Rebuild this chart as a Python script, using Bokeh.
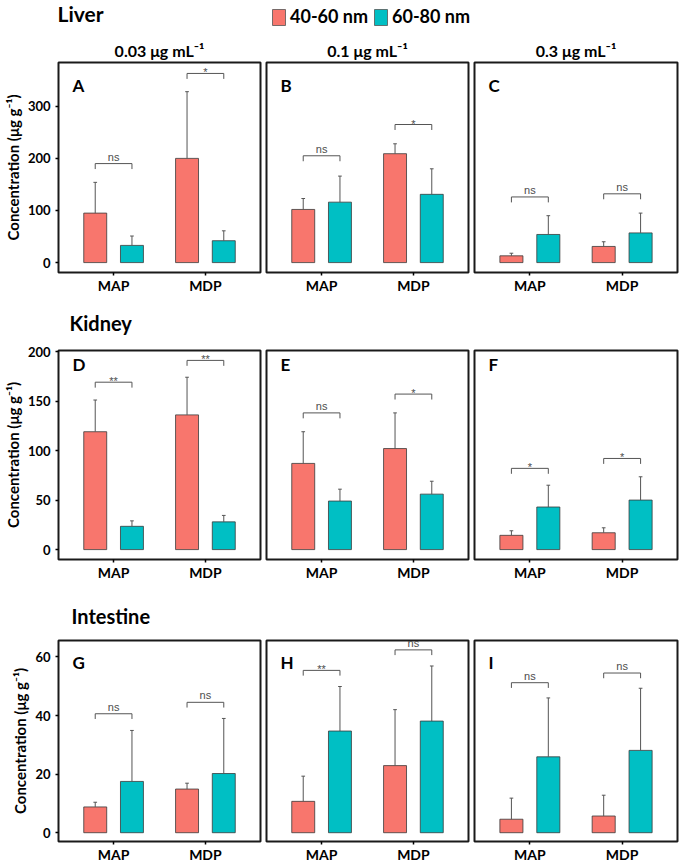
from bokeh.plotting import figure
from bokeh.models import Range1d, FixedTicker, ColumnDataSource
from bokeh.layouts import column, row
from bokeh.embed import file_html
from bokeh.resources import INLINE
from bokeh.core.properties import value

# ---------------- data ----------------
organs = ["Liver", "Kidney", "Intestine"]
concentrations = ["0.03 μg mL⁻¹", "0.1 μg mL⁻¹", "0.3 μg mL⁻¹"]
categories = ["MAP", "MDP"]
sizes = ["40-60 nm", "60-80 nm"]
panel_letters = [["A", "B", "C"], ["D", "E", "F"], ["G", "H", "I"]]
y_ticks = [[0, 100, 200, 300], [0, 50, 100, 150, 200], [0, 20, 40, 60]]
y_limits = [(-19, 384), (-10, 201), (-3, 65.6)]

# mean values per concentration [MAP, MDP]; error = upper end of the error bar
liver_mean_40_60 = [[95, 200], [102, 209], [13, 31]]
liver_err_40_60 = [[154, 328], [123, 228], [18, 40]]
liver_mean_60_80 = [[33, 42], [116, 131], [54, 57]]
liver_err_60_80 = [[51, 61], [166, 180], [90, 95]]
liver_bracket = [[190, 363], [205, 265], [126, 132]]
liver_sig = [["ns", "*"], ["ns", "*"], ["ns", "ns"]]

kidney_mean_40_60 = [[119, 136], [87, 102], [14.4, 17]]
kidney_err_40_60 = [[151, 174], [119, 138], [19, 22]]
kidney_mean_60_80 = [[23.5, 28], [49, 56], [43, 50]]
kidney_err_60_80 = [[29, 34.5], [61, 69], [65, 73.5]]
kidney_bracket = [[169, 191], [138, 157], [82, 92]]
kidney_sig = [["**", "**"], ["ns", "*"], ["*", "*"]]

intestine_mean_40_60 = [[8.8, 14.9], [10.7, 22.9], [4.6, 5.7]]
intestine_err_40_60 = [[10.4, 16.9], [19.3, 42], [11.8, 12.8]]
intestine_mean_60_80 = [[17.5, 20.2], [34.7, 38.1], [25.9, 28.1]]
intestine_err_60_80 = [[34.9, 39], [49.9, 56.9], [46, 49.3]]
intestine_bracket = [[40.6, 44.5], [55.4, 62.4], [51.2, 54.5]]
intestine_sig = [["ns", "ns"], ["**", "ns"], ["ns", "ns"]]

organ_data = [
    (liver_mean_40_60, liver_err_40_60, liver_mean_60_80, liver_err_60_80, liver_bracket, liver_sig),
    (kidney_mean_40_60, kidney_err_40_60, kidney_mean_60_80, kidney_err_60_80, kidney_bracket, kidney_sig),
    (intestine_mean_40_60, intestine_err_40_60, intestine_mean_60_80, intestine_err_60_80, intestine_bracket, intestine_sig),
]

# ---------------- style ----------------
RED = "#F8766D"
TEAL = "#00BFC4"
FONT = value("Lato")
SIGFONT = value("Liberation Sans")
BAR_LINE = "#3a3a3a"
ERR_COL = "#555555"
BASE_SHIFT = 0.45   # em; compensates where the text baseline is drawn

col_widths = [263, 208, 214]
col_mbl = [58, 3, 3]
col_mbr = [3, 3, 8]
row_heights = [236, 241, 227]
row_mbt = [1, 7, 2]
row_mbb = [25, 25, 21]
letter_dy = [31, 21.5, 30]
header_heights = [61, 46, 54]
header_tops = [0, 297, 584]
PAGE_W = 685

yranges = [Range1d(lo, hi) for lo, hi in y_limits]


def make_panel(r, c):
    first = c == 0
    p = figure(width=col_widths[c], height=row_heights[r],
               x_range=Range1d(0.4, 2.6), y_range=yranges[r],
               output_backend="svg", toolbar_location=None,
               min_border_left=col_mbl[c], min_border_right=col_mbr[c],
               min_border_top=row_mbt[r], min_border_bottom=row_mbb[r],
               y_axis_location="left" if first else None)
    p.grid.visible = False
    p.outline_line_color = "#1a1a1a"
    p.outline_line_width = 2
    p.background_fill_color = "white"

    xc = [i + 1 for i in range(len(categories))]
    xa = [x - 0.2 for x in xc]
    xb = [x + 0.2 for x in xc]
    m_a, e_a, m_b, e_b, br, sg = [d[c] for d in organ_data[r]]

    p.vbar(x=xa, top=m_a, bottom=0, width=0.25, fill_color=RED, line_color=BAR_LINE, line_width=0.8)
    p.vbar(x=xb, top=m_b, bottom=0, width=0.25, fill_color=TEAL, line_color=BAR_LINE, line_width=0.8)

    for xs, ms, es in ((xa, m_a, e_a), (xb, m_b, e_b)):
        p.segment(x0=xs, y0=ms, x1=xs, y1=es, line_color=ERR_COL, line_width=1)
        p.segment(x0=[x - 0.02 for x in xs], y0=es, x1=[x + 0.02 for x in xs], y1=es,
                  line_color=ERR_COL, line_width=1)

    lo, hi = y_limits[r]
    tick = (hi - lo) * 0.026
    p.multi_line(xs=[[xa[i], xa[i], xb[i], xb[i]] for i in range(len(xc))],
                 ys=[[br[i] - tick, br[i], br[i], br[i] - tick] for i in range(len(xc))],
                 line_color=ERR_COL, line_width=1)
    src = ColumnDataSource(dict(x=xc, y=br, t=sg, dy=[-7 if s == "ns" else -1 for s in sg]))
    p.text(x="x", y="y", text="t", y_offset="dy", source=src, text_align="center",
           text_baseline="alphabetic", text_font=SIGFONT, text_font_size="11px", text_color="#4d4d4d")

    p.text(x=[0.4], y=[hi], text=[panel_letters[r][c]], x_offset=14,
           y_offset=letter_dy[r] - BASE_SHIFT * 17,
           text_align="left", text_baseline="alphabetic", text_font=FONT,
           text_font_style="bold", text_font_size="17px", text_color="black")

    xa_ = p.xaxis[0]
    xa_.ticker = FixedTicker(ticks=xc)
    xa_.major_label_overrides = {x: cat for x, cat in zip(xc, categories)}
    xa_.axis_line_color = None
    xa_.major_tick_in = 0
    xa_.major_tick_out = 3
    xa_.major_tick_line_color = "black"
    xa_.major_tick_line_width = 1.5
    xa_.minor_tick_line_color = None
    xa_.major_label_standoff = 1
    xa_.major_label_text_font = "Lato"
    xa_.major_label_text_font_style = "bold"
    xa_.major_label_text_font_size = "14px"
    xa_.major_label_text_color = "black"

    if first:
        ya = p.yaxis[0]
        ya.ticker = FixedTicker(ticks=y_ticks[r])
        ya.axis_line_color = None
        ya.major_tick_in = 0
        ya.major_tick_out = 3
        ya.major_tick_line_color = "black"
        ya.major_tick_line_width = 1.5
        ya.minor_tick_line_color = None
        ya.major_label_standoff = 5
        ya.major_label_text_font = "Lato"
        ya.major_label_text_font_style = "bold"
        ya.major_label_text_font_size = "13px"
        ya.major_label_text_color = "black"
        ya.axis_label = "Concentration (μg g⁻¹)"
        ya.axis_label_standoff = 3
        ya.axis_label_text_font = "Lato"
        ya.axis_label_text_font_style = "bold"
        ya.axis_label_text_font_size = "15px"
        ya.axis_label_text_color = "black"
    return p


def make_header(i):
    h = header_heights[i]
    top = header_tops[i]
    f = figure(width=PAGE_W, height=h, x_range=Range1d(0, PAGE_W), y_range=Range1d(top + h, top),
               output_backend="svg", toolbar_location=None,
               min_border_left=0, min_border_right=0, min_border_top=0, min_border_bottom=0,
               x_axis_location=None, y_axis_location=None)
    f.grid.visible = False
    f.outline_line_color = None
    return f


headers = [make_header(i) for i in range(3)]

# organ titles (x, baseline y, font size)
organ_pos = [(57, 22, 21), (69, 331.7, 20), (71, 624, 20)]
for i, (ox, oy, fs) in enumerate(organ_pos):
    headers[i].text(x=[ox], y=[oy], y_offset=-BASE_SHIFT * fs, text=[organs[i]], text_font=FONT,
                    text_font_style="bold", text_font_size=f"{fs}px", text_baseline="alphabetic",
                    text_align="left", text_color="black")

# legend
h0 = headers[0]
leg_x = [278.5, 380.5]
h0.rect(x=leg_x, y=[17, 17], width=13, height=16, fill_color=[RED, TEAL], line_color="#555555", line_width=0.8)
h0.text(x=[lx + 11 for lx in leg_x], y=[23.5, 23.5], y_offset=-BASE_SHIFT * 18, text=sizes,
        text_font=FONT, text_font_style="bold", text_font_size="18px", text_baseline="alphabetic",
        text_align="left", text_color="black")

# concentration titles centred over the panel columns
centers = [159, 367, 575.5]
h0.text(x=centers, y=[57] * 3, y_offset=-BASE_SHIFT * 16, text=concentrations, text_font=FONT,
        text_font_style="bold", text_font_size="16px", text_baseline="alphabetic",
        text_align="center", text_color="black")

panels = [[make_panel(r, c) for c in range(3)] for r in range(3)]

layout = column(headers[0], row(*panels[0]), headers[1], row(*panels[1]), headers[2], row(*panels[2]))

open("out.html", "w").write(file_html(layout, INLINE))
